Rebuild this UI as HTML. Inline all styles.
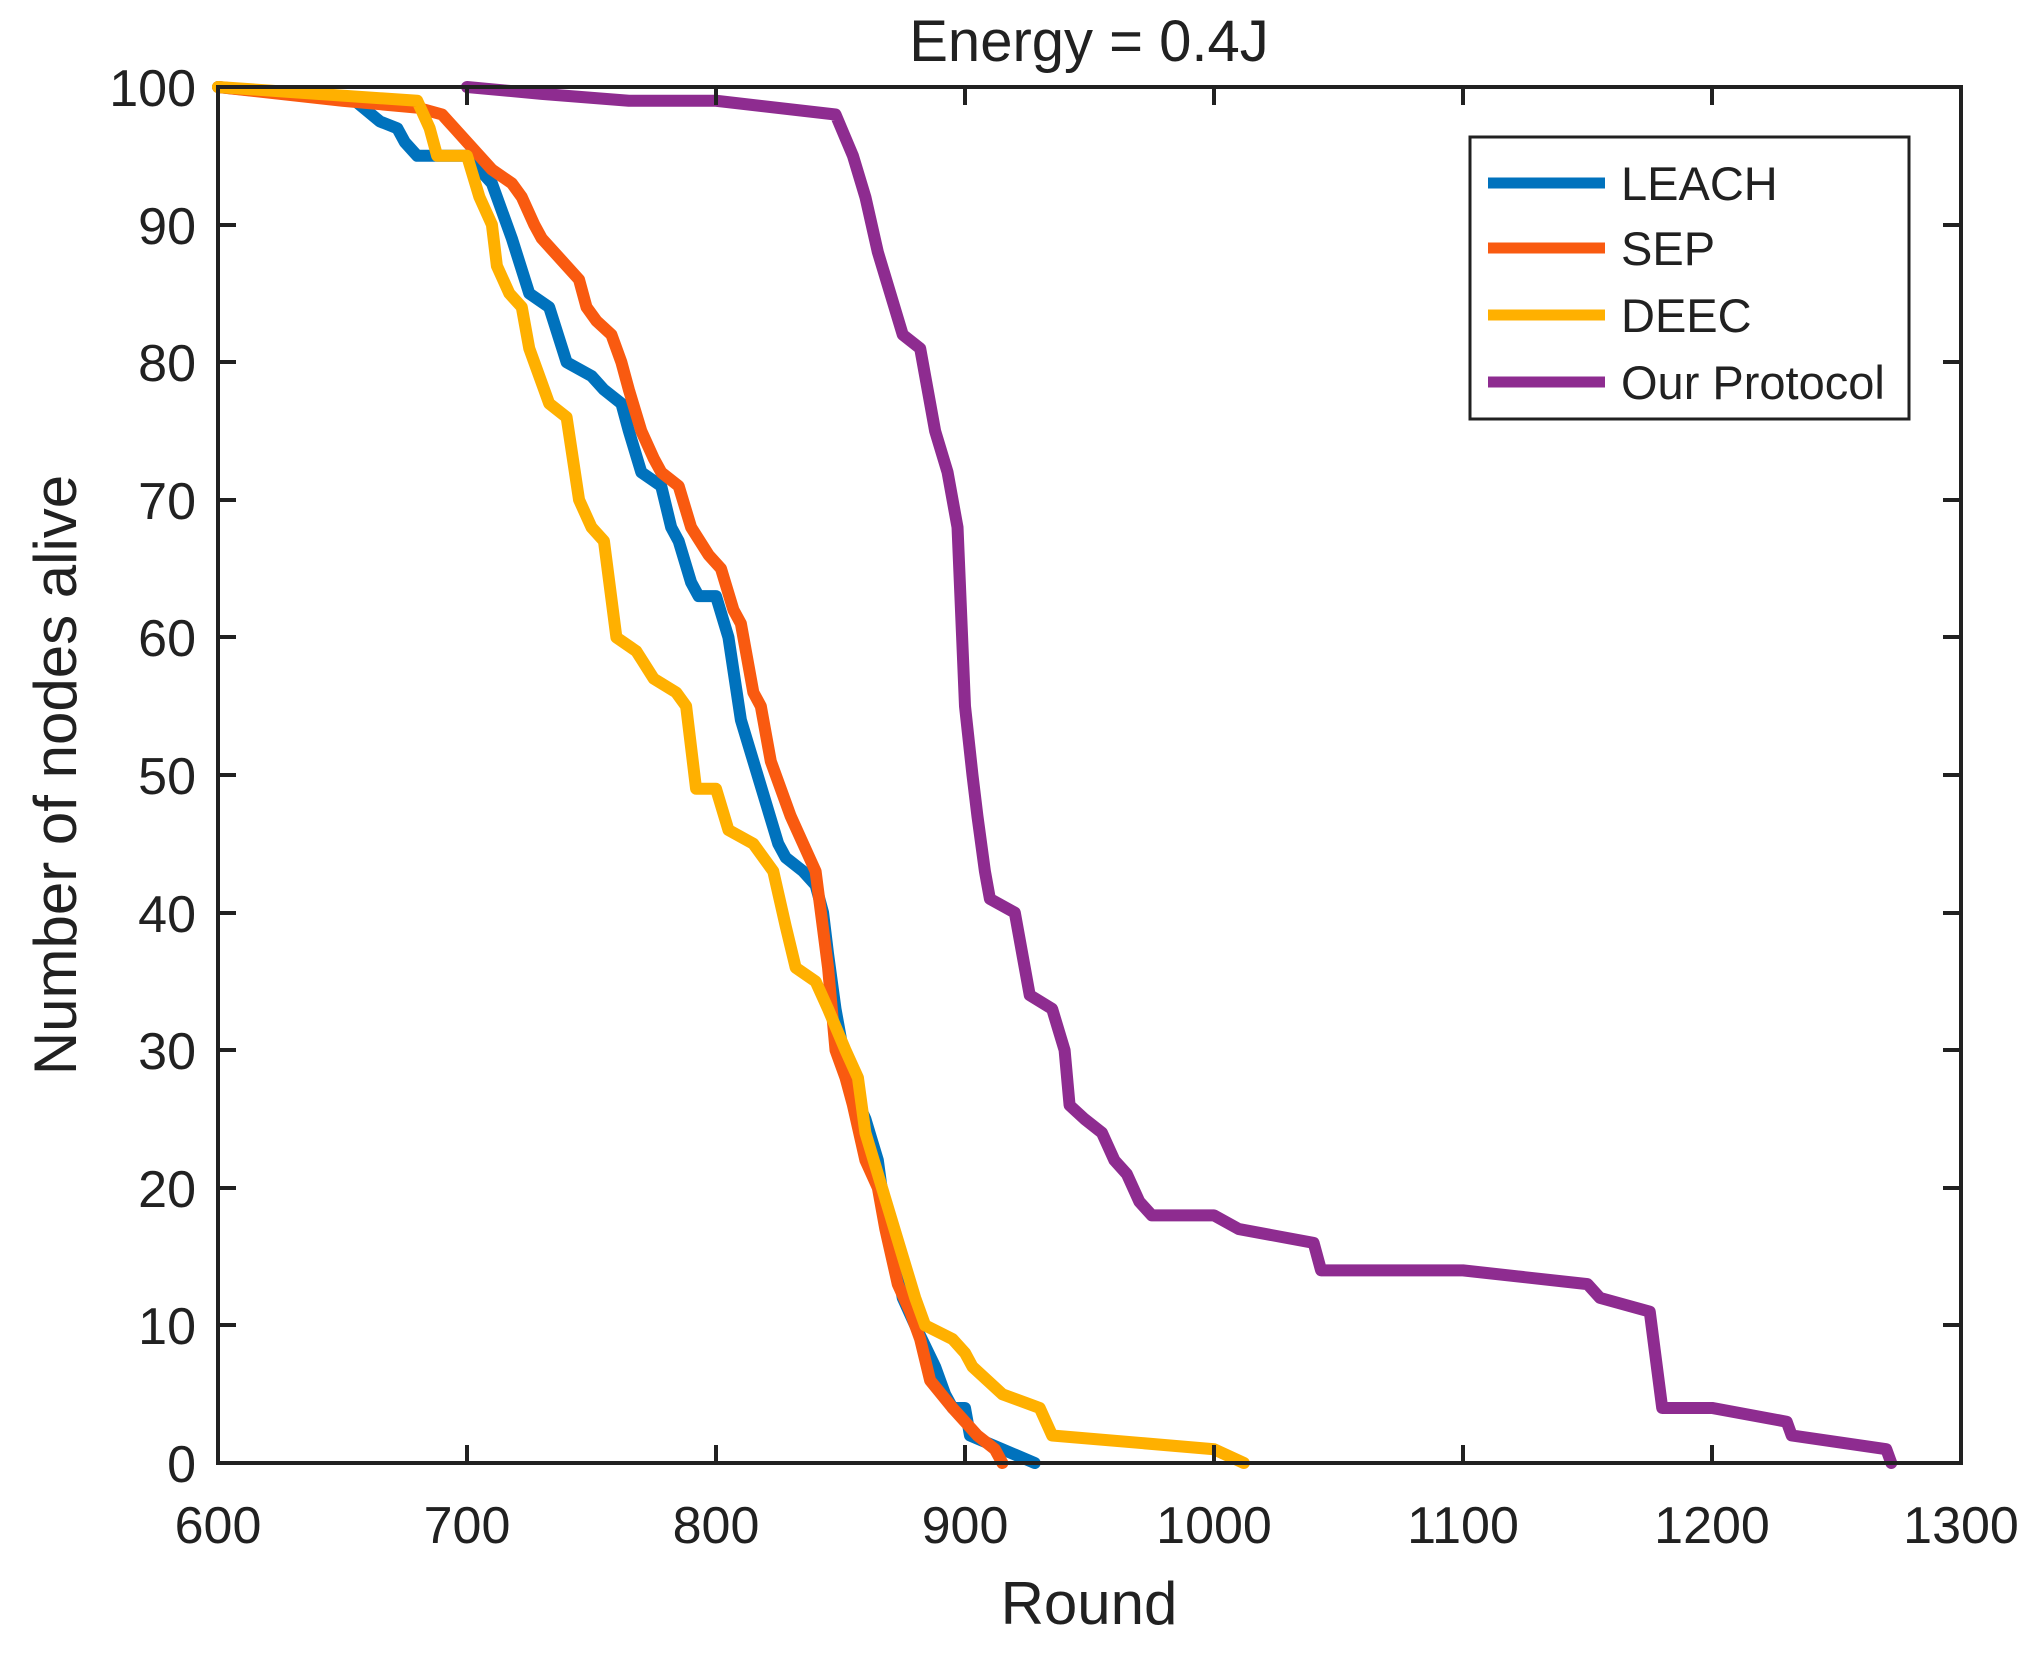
<!DOCTYPE html>
<html><head><style>html,body{margin:0;padding:0;background:#fff}</style></head>
<body>
<svg width="2033" height="1659" xmlns="http://www.w3.org/2000/svg" font-family="Liberation Sans, Arial, sans-serif" fill="#212121">
<rect width="2033" height="1659" fill="#fff"/>
<g transform="translate(218,1463) scale(2.49,-13.76) translate(-600,0)" fill="none" stroke-width="12" stroke-linejoin="round" stroke-linecap="round">
<polyline vector-effect="non-scaling-stroke" stroke="#0072BD" points="600,100 655,99 665,97.5 672,97 675,96 680,95 700,95 710,93 718,89 725,85 733,84 740,80 750,79 755,78 762,77 765,75 770,72 778,71 782,68 785,67 790,64 793,63 800,63 805,60 810,54 815,51 820,48 825,45 828,44 835,43 840,42 843,40 845,37 848,33 851,30 855,27 860,25 865,22 868,18 872,15 875,12 880,10 888,7 892,5 895,4 900,4 902,2 915,1 928,0"/>
<polyline vector-effect="non-scaling-stroke" stroke="#F95A10" points="600,100 650,99 680,98.5 690,98 695,97 700,96 705,95 710,94 718,93 722,92 727,90 730,89 735,88 740,87 745,86 748,84 752,83 758,82 762,80 765,78 770,75 775,73 778,72 785,71 790,68 797,66 802,65 807,62 810,61 815,56 818,55 822,51 830,47 835,45 840,43 845,36 848,30 852,28 855,26 860,22 865,20 868,17 873,13 878,11 882,9 886,6 895,4 905,2 912,1 915,0"/>
<polyline vector-effect="non-scaling-stroke" stroke="#FFB000" points="600,100 680,99 685,97 688,95 700,95 705,92 710,90 712,87 717,85 722,84 725,81 733,77 740,76 745,70 750,68 755,67 760,60 768,59 775,57 784,56 788,55 792,49 800,49 805,46 815,45 823,43 828,39 832,36 840,35 845,33 852,30 857,28 860,24 865,21 870,18 875,15 880,12 884,10 895,9 900,8 903,7 915,5 930,4 935,2 1000,1 1012,0"/>
<polyline vector-effect="non-scaling-stroke" stroke="#8E2C90" points="700,100 730,99.5 765,99 800,99 848,98 855,95 860,92 865,88 870,85 875,82 882,81 885,78 888,75 893,72 897,68 900,55 903,50 905,47 908,43 910,41 920,40 923,37 926,34 935,33 940,30 942,26 948,25 955,24 960,22 965,21 970,19 975,18 1000,18 1010,17 1040,16 1043,14 1100,14 1150,13 1155,12 1175,11 1180,4 1200,4 1230,3 1232,2 1270,1 1272,0"/>
</g>
<g stroke="#212121" stroke-width="4" fill="none">
<rect x="218" y="87" width="1743" height="1376"/>
<path d="M467,1463v-18M716,1463v-18M965,1463v-18M1214,1463v-18M1463,1463v-18M1712,1463v-18M467,87v18M716,87v18M965,87v18M1214,87v18M1463,87v18M1712,87v18
M218,1325h18M218,1188h18M218,1050h18M218,913h18M218,775h18M218,637h18M218,500h18M218,362h18M218,225h18
M1961,1325h-18M1961,1188h-18M1961,1050h-18M1961,913h-18M1961,775h-18M1961,637h-18M1961,500h-18M1961,362h-18M1961,225h-18"/>
</g>
<g font-size="52" text-anchor="middle">
<text x="218" y="1543">600</text><text x="467" y="1543">700</text><text x="716" y="1543">800</text><text x="965" y="1543">900</text><text x="1214" y="1543">1000</text><text x="1463" y="1543">1100</text><text x="1712" y="1543">1200</text><text x="1961" y="1543">1300</text>
</g>
<g font-size="52" text-anchor="end">
<text x="196" y="1482">0</text><text x="196" y="1344">10</text><text x="196" y="1207">20</text><text x="196" y="1069">30</text><text x="196" y="932">40</text><text x="196" y="794">50</text><text x="196" y="656">60</text><text x="196" y="519">70</text><text x="196" y="381">80</text><text x="196" y="244">90</text><text x="196" y="106">100</text>
</g>
<text x="1089" y="61" font-size="58" text-anchor="middle">Energy = 0.4J</text>
<text x="1089" y="1624" font-size="60" text-anchor="middle">Round</text>
<text transform="translate(76,775) rotate(-90)" font-size="60" text-anchor="middle">Number of nodes alive</text>
<rect x="1470" y="137" width="439" height="282" fill="#fff" stroke="#212121" stroke-width="3"/>
<g stroke-width="11">
<line x1="1488" y1="183" x2="1605" y2="183" stroke="#0072BD"/>
<line x1="1488" y1="248" x2="1605" y2="248" stroke="#F95A10"/>
<line x1="1488" y1="315" x2="1605" y2="315" stroke="#FFB000"/>
<line x1="1488" y1="382" x2="1605" y2="382" stroke="#8E2C90"/>
</g>
<g font-size="47">
<text x="1621" y="200">LEACH</text><text x="1621" y="265">SEP</text><text x="1621" y="332">DEEC</text><text x="1621" y="399">Our Protocol</text>
</g>
</svg>
</body></html>
